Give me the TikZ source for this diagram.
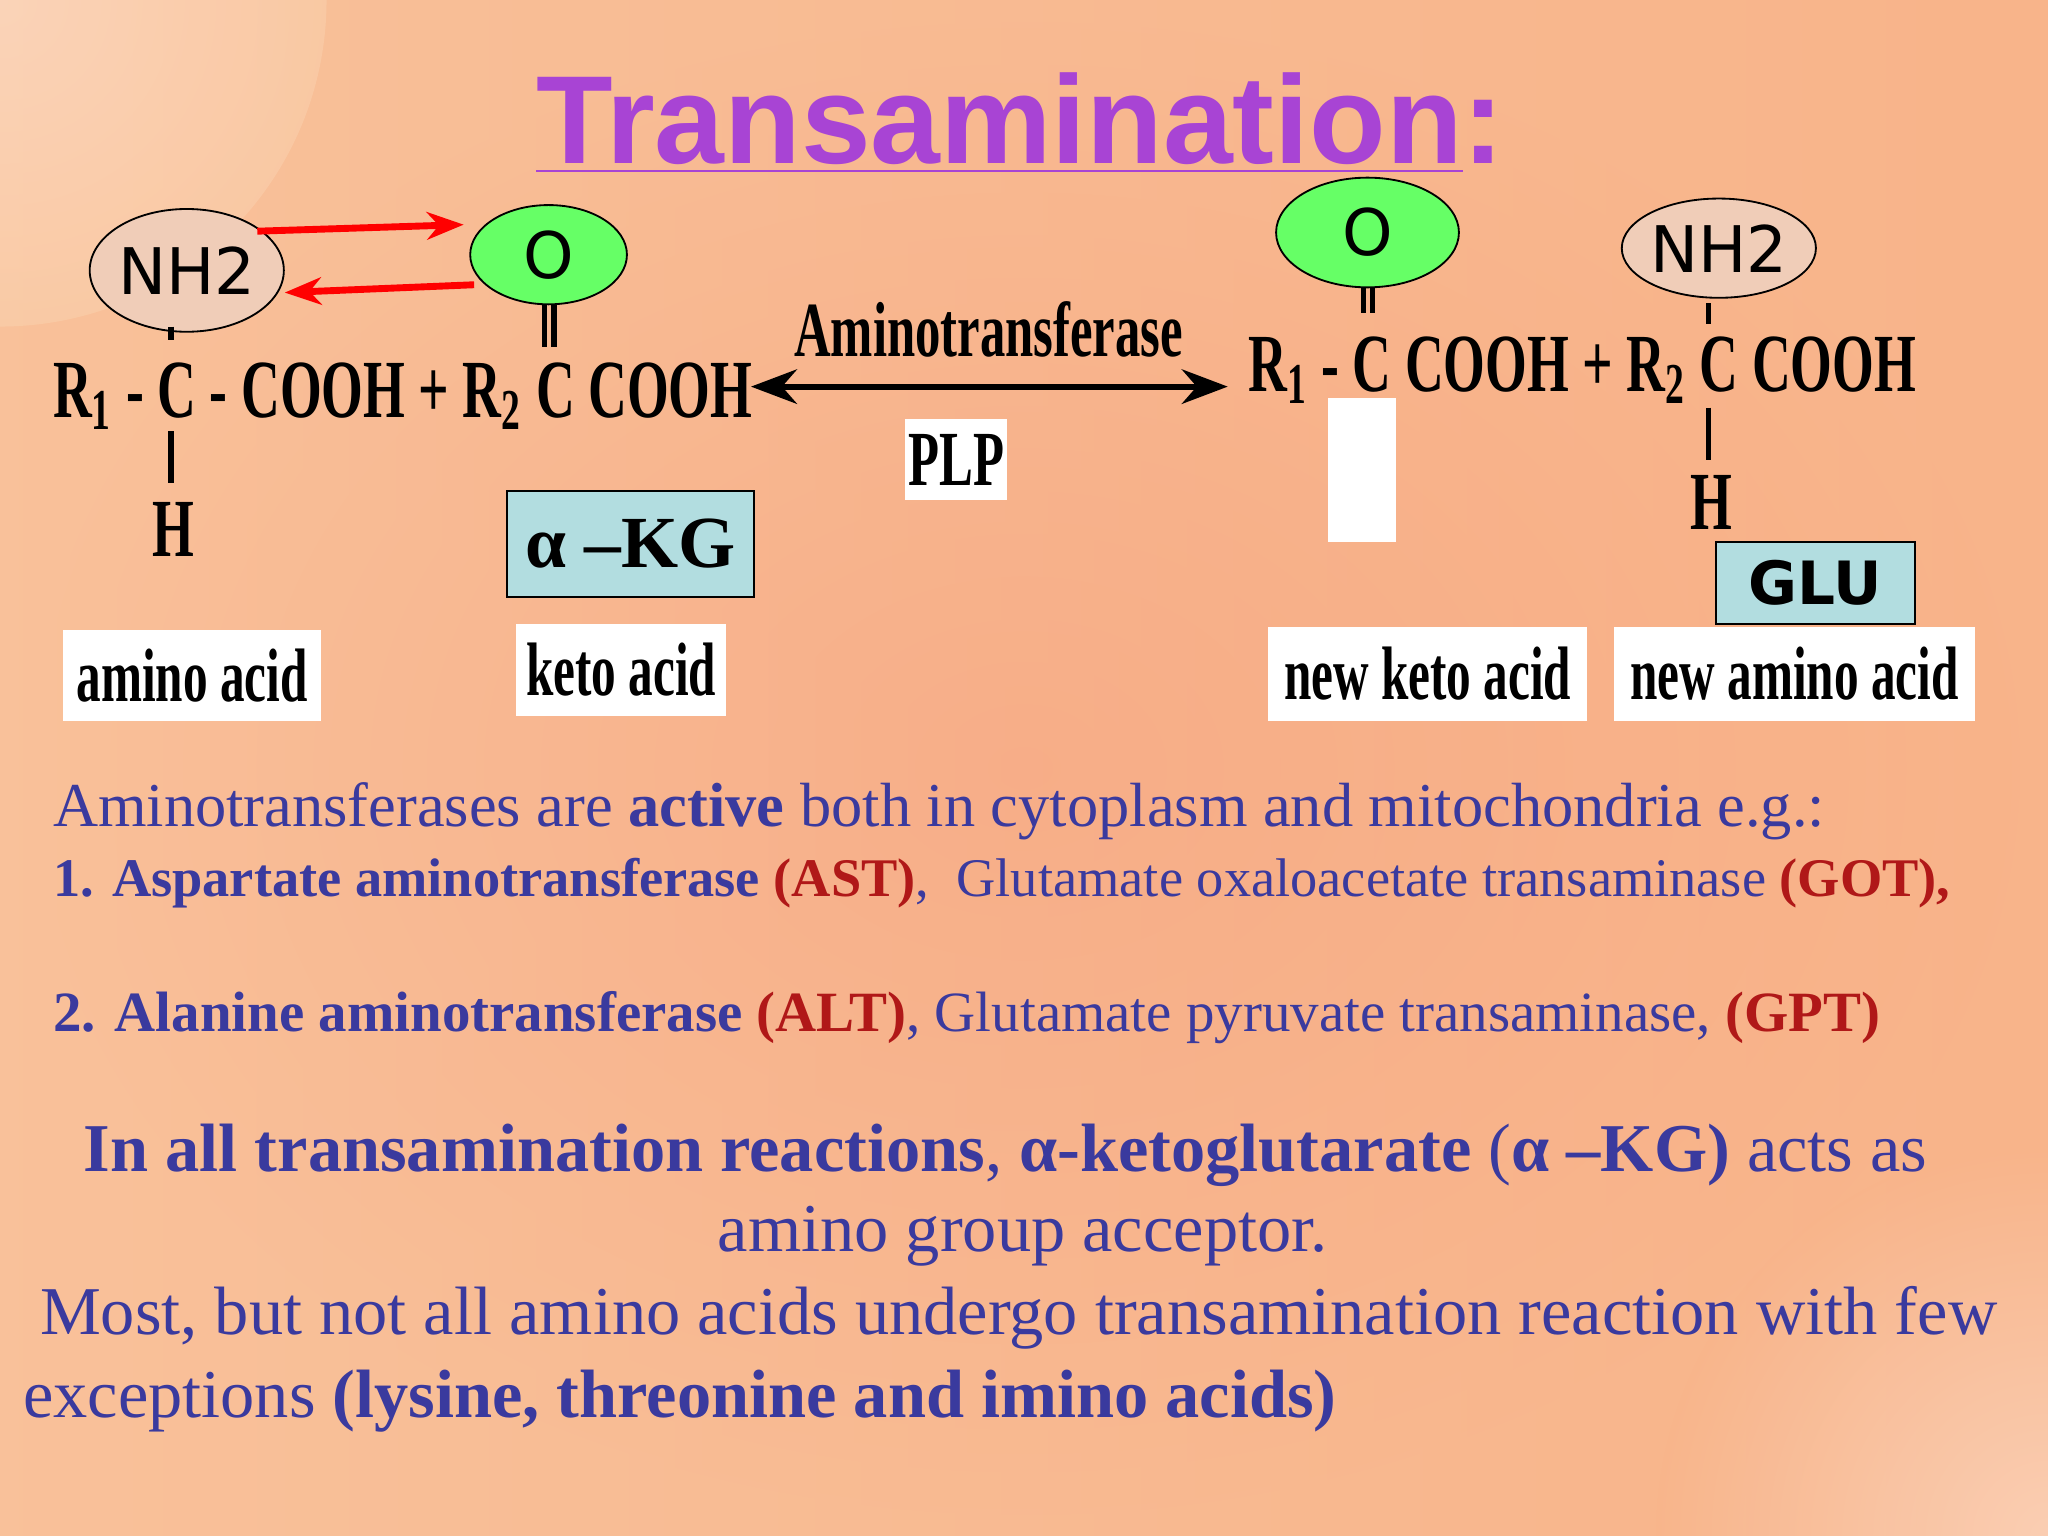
\documentclass[tikz,border=0pt]{standalone}
\usepackage{fontspec}
\setmainfont{Liberation Serif}
\newfontfamily\cond[FakeStretch=0.65]{Liberation Serif}
\newfontfamily\ttl{Liberation Sans}
\newfontfamily\sns{DejaVu Sans}
\usetikzlibrary{arrows.meta,shapes.geometric}
\definecolor{bgA}{HTML}{F8B48A}
\definecolor{bgB}{HTML}{FCE0C0}
\definecolor{bgC}{HTML}{F7A27C}
\definecolor{purp}{HTML}{A844D4}
\definecolor{txb}{HTML}{3A3A9E}
\definecolor{txr}{HTML}{B01818}
\definecolor{kg}{HTML}{B2DDE0}
\definecolor{grn}{HTML}{66FF66}
\definecolor{nh}{HTML}{F0CDB8}
\tikzset{
 P/.style={x=0.1mm,y=-0.1mm},
 form/.style={font=\cond\bfseries\fontsize{18}{18}\selectfont, inner sep=0pt},
 lab/.style={fill=white, font=\cond\bfseries\fontsize{16.5}{16.5}\selectfont, inner sep=0pt},
 body/.style={font=\fontsize{13.6}{15}\selectfont, text=txb, anchor=base west, inner sep=0pt},
 big/.style={font=\fontsize{14.9}{17}\selectfont},
 bond/.style={line width=1.2pt},
}
\begin{document}
\begin{tikzpicture}[P]
\useasboundingbox (0,0) rectangle (1568,1176);
\shade[left color=bgB, right color=bgA] (0,0) rectangle (1568,1176);
\shade[inner color=bgC, outer color=bgA, opacity=0.7] (0,0) rectangle (1568,1176);
\shade[inner color=white, outer color=bgA, opacity=0.35] (1568,1176) circle (300);
\shade[inner color=white, outer color=bgB, opacity=0.3] (0,0) circle (250);
% title
\node[font=\ttl\bfseries\fontsize{27.3}{28}\selectfont, text=purp, anchor=base west, inner sep=0pt] (title) at (410,125) {\underline{Transamination}:};
% left molecules
\node[form, anchor=base west] (f1) at (40,320) {R\textsubscript{1} - C - COOH + R\textsubscript{2} C COOH};
\node[draw, ellipse, fill=nh, minimum width=13.6mm, minimum height=9.4mm, inner sep=0pt, font=\sns\fontsize{14}{14}\selectfont] (nh1) at (143,207) {NH2};
\node[draw, ellipse, fill=grn, minimum width=12mm, minimum height=7.6mm, inner sep=0pt, font=\sns\fontsize{14}{14}\selectfont] (o1) at (420,195) {O};
\coordinate (a1s) at (197,177); \coordinate (a1e) at (355,172);
\coordinate (a2s) at (363,218); \coordinate (a2e) at (218,224);
\draw[red, line width=1.5pt, -{Stealth[length=8pt]}] (a1s) -- (a1e);
\draw[red, line width=1.5pt, -{Stealth[length=8pt]}] (a2s) -- (a2e);
\draw[bond] (131,330) -- (131,370);
\draw[bond] (131,250) -- (131,260);
\draw[bond] (417,233) -- (417,266); \draw[bond] (424,233) -- (424,266);
\node[form] (h1) at (133,405) {H};
\node[draw, fill=kg, minimum width=18.9mm, minimum height=8.1mm, inner sep=0pt, font=\bfseries\fontsize{16}{16}\selectfont] (kg1) at (482.5,416.5) {α –KG};
% arrow
\node[font=\cond\bfseries\fontsize{17}{17}\selectfont, inner sep=0pt] (amt) at (757,252) {Aminotransferase};
\coordinate (arL) at (575,296); \coordinate (arR) at (940,296);
\draw[line width=1.3pt, {Stealth[length=10pt]}-{Stealth[length=10pt]}] (arL) -- (arR);
\node[fill=white, font=\cond\bfseries\fontsize{17}{17}\selectfont, minimum width=7.8mm, minimum height=6.2mm, inner sep=0pt] (plp) at (732,352) {PLP};
% right molecules
\node[form, anchor=base west] (f2) at (955,300) {R\textsubscript{1} - C COOH + R\textsubscript{2} C COOH};
\node[draw, ellipse, fill=grn, minimum width=14mm, minimum height=8.4mm, inner sep=0pt, font=\sns\fontsize{14}{14}\selectfont] (o2) at (1047,178) {O};
\draw[bond] (1044,220) -- (1044,240); \draw[bond] (1051,220) -- (1051,240);
\fill[white] (1017,305) rectangle (1069,415);
\node[draw, ellipse, fill=nh, minimum width=14mm, minimum height=7.6mm, inner sep=0pt, font=\sns\fontsize{14}{14}\selectfont] (nh2) at (1316,190) {NH2};
\draw[bond] (1308,232) -- (1308,248);
\draw[bond] (1308,312) -- (1308,352);
\node[form] (h2) at (1310,385) {H};
\node[draw, fill=kg, minimum width=15.2mm, minimum height=6.3mm, inner sep=0pt, font=\sns\bfseries\fontsize{13}{13}\selectfont] (glu) at (1390,446.5) {GLU};
% labels
\node[lab, minimum width=19.8mm, minimum height=7mm] (l1) at (147,517) {amino acid};
\node[lab, minimum width=16.1mm, minimum height=7mm] (l2) at (475.5,513) {keto acid};
\node[lab, minimum width=24.4mm, minimum height=7.2mm] (l3) at (1093,516) {new keto acid};
\node[lab, minimum width=27.6mm, minimum height=7.2mm] (l4) at (1374,516) {new amino acid};
% body text
\node[body] (t1) at (40,633) {Aminotransferases are \textbf{active} both in cytoplasm and mitochondria e.g.:};
\node[body, font=\fontsize{11.85}{13}\selectfont] (t2) at (40,686) {\textbf{1. Aspartate aminotransferase} \textcolor{txr}{\textbf{(AST)}},\ \ Glutamate oxaloacetate transaminase \textcolor{txr}{\textbf{(GOT),}}};
\node[body, font=\fontsize{12.4}{13}\selectfont] (t3) at (40,790) {\textbf{2. Alanine aminotransferase} \textcolor{txr}{\textbf{(ALT)}}, Glutamate pyruvate transaminase, \textcolor{txr}{\textbf{(GPT)}}};
\node[body, big, anchor=base] (t4) at (770,897) {\textbf{In all transamination reactions}, \textbf{α-ketoglutarate} (\textbf{α –KG)} acts as};
\node[body, big, anchor=base] (t5) at (783,958) {amino group acceptor.};
\node[body, big] (t6) at (30,1022) {Most, but not all amino acids undergo transamination reaction with few};
\node[body, big] (t7) at (17,1085) {exceptions \textbf{(lysine, threonine and imino acids)}};
\end{tikzpicture}
\end{document}
